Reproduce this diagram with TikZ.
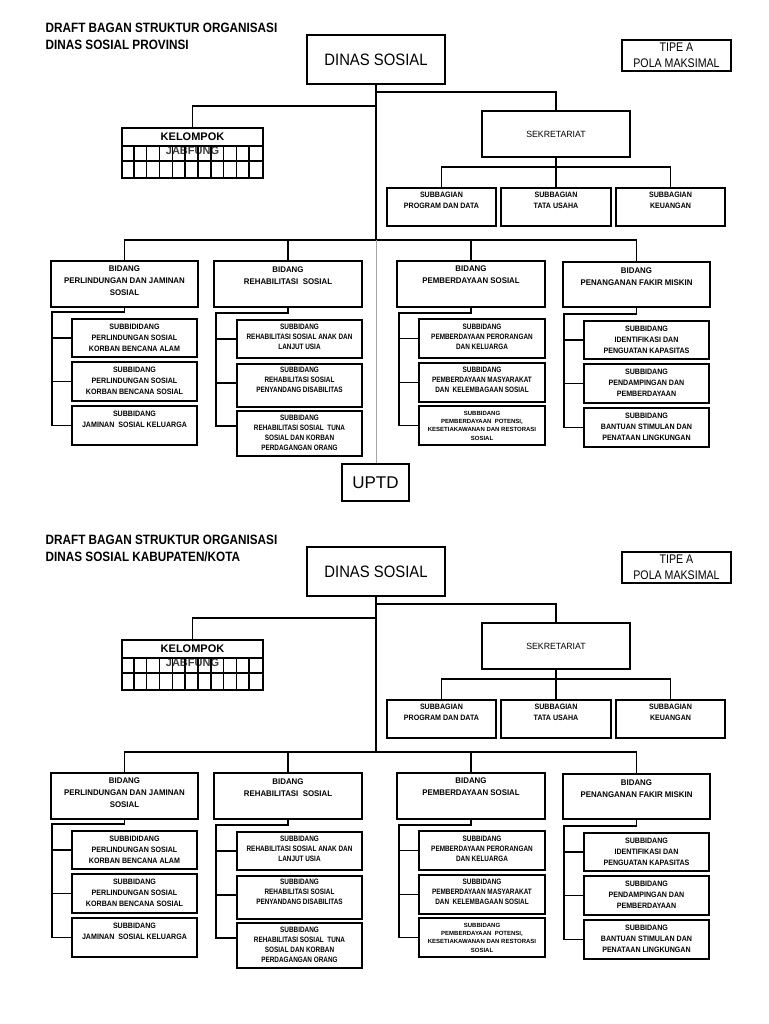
\documentclass[tikz,border=0pt]{standalone}
\usepackage{fontspec}
\setmainfont{Liberation Sans}
\newfontfamily\ftitle[FakeStretch=0.87]{Liberation Sans}
\newfontfamily\fbig[FakeStretch=0.9]{Liberation Sans}
\newfontfamily\ftipe[FakeStretch=0.85]{Liberation Sans}
\newfontfamily\fsek[FakeStretch=0.97]{Liberation Sans}
\newfontfamily\fsubw[FakeStretch=0.91]{Liberation Sans}
\newfontfamily\fsubn[FakeStretch=0.82]{Liberation Sans}
\newfontfamily\fbidn[FakeStretch=0.96]{Liberation Sans}
\newfontfamily\fbid{Liberation Sans}

\tikzset{
 box/.style={draw, line width=1.9pt, rectangle, inner sep=0pt, align=center},
 conn/.style={line width=1.9pt},
 gridln/.style={line width=1.5pt},
 txt/.style={anchor=north, inner sep=0pt, align=center},
 subw/.style={txt, font=\fsubw\bfseries\fontsize{7.8}{11}\selectfont},
 subn/.style={txt, font=\fsubn\bfseries\fontsize{7.8}{10}\selectfont},
 subs/.style={txt, font=\fbid\bfseries\fontsize{6}{8.3}\selectfont},
 bid/.style={txt, font=\fbidn\bfseries\fontsize{8.2}{12}\selectfont},
 bigtxt/.style={font=\fbig\fontsize{16.5}{18}\selectfont},
}

\newcommand\mkbox[7][]{\node[box,#1,minimum width={#5-#3},minimum height={#6-#4}] (#2) at ({(#3+#5)/2},{(#4+#6)/2}) {#7};}
\newcommand\intext[5]{\node[#1] (#2) at ([yshift=-#4pt]#3.north) {#5};}

\newcommand\orgchart[2]{%
 \node[anchor=north west, inner sep=0pt, align=left, font=\ftitle\bfseries\fontsize{13.5}{17.6}\selectfont] (#1title) at (45.5,22.7) {DRAFT BAGAN STRUKTUR ORGANISASI\\#2};
 \mkbox[bigtxt]{#1dinas}{307}{35}{445}{84}{DINAS SOSIAL}
 \mkbox[font=\ftipe\fontsize{12.5}{16}\selectfont]{#1tipe}{622}{40}{731}{71}{TIPE A\\POLA MAKSIMAL}
 % kelompok jabfung
 \mkbox{#1kel}{122}{128}{263}{178}{}
 \node[font=\fbid\bfseries\fontsize{11}{12}\selectfont, inner sep=0pt] (#1kelt) at ([yshift=-9.5pt]#1kel.north) {KELOMPOK};
 \node[font=\fbid\bfseries\fontsize{11}{12}\selectfont, inner sep=0pt, text=black!75] (#1jabt) at ([yshift=-23.7pt]#1kel.north) {JABFUNG};
 \draw[gridln] ([yshift=-19pt]#1kel.north west) -- ([yshift=-19pt]#1kel.north east);
 \draw[gridln] ([yshift=-34pt]#1kel.north west) -- ([yshift=-34pt]#1kel.north east);
 \foreach \k in {1,...,10} {\draw[gridln] ([xshift={\k*12.818pt},yshift=-19pt]#1kel.north west) -- ([xshift={\k*12.818pt}]#1kel.south west);}
 % sekretariat
 \mkbox[font=\fsek\fontsize{9}{11}\selectfont]{#1sek}{482}{111}{630}{157}{SEKRETARIAT}
 \mkbox{#1sb1}{387}{188}{496}{226}{}
 \mkbox{#1sb2}{501}{188}{611}{226}{}
 \mkbox{#1sb3}{616}{188}{725}{226}{}
 \intext{subw}{#1sb1t}{#1sb1}{5.2}{SUBBAGIAN\\PROGRAM DAN DATA}
 \intext{subw}{#1sb2t}{#1sb2}{5.2}{SUBBAGIAN\\TATA USAHA}
 \intext{subw}{#1sb3t}{#1sb3}{5.2}{SUBBAGIAN\\KEUANGAN}
 % bidang
 \mkbox{#1b1}{51}{261}{198}{307}{}
 \mkbox{#1b2}{214}{261}{362}{307}{}
 \mkbox{#1b3}{397}{261}{545}{307}{}
 \mkbox{#1b4}{563}{262}{710}{307}{}
 \intext{bid}{#1b1t}{#1b1}{6}{BIDANG\\PERLINDUNGAN DAN JAMINAN\\SOSIAL}
 \intext{bid}{#1b2t}{#1b2}{7}{BIDANG\\REHABILITASI\ \ SOSIAL}
 \intext{bid}{#1b3t}{#1b3}{6}{BIDANG\\PEMBERDAYAAN SOSIAL}
 \intext{bid}{#1b4t}{#1b4}{6.7}{BIDANG\\PENANGANAN FAKIR MISKIN}
 % column 1
 \mkbox{#1s1a}{72}{319}{197}{357}{}
 \mkbox{#1s1b}{72}{362}{197}{401}{}
 \mkbox{#1s1c}{72}{406}{197}{445}{}
 \intext{subw}{#1s1at}{#1s1a}{5.6}{SUBBIDIDANG\\PERLINDUNGAN SOSIAL\\KORBAN BENCANA ALAM}
 \intext{subw}{#1s1bt}{#1s1b}{5.6}{SUBBIDANG\\PERLINDUNGAN SOSIAL\\KORBAN BENCANA SOSIAL}
 \intext{subw}{#1s1ct}{#1s1c}{5.6}{SUBBIDANG\\JAMINAN\ \ SOSIAL KELUARGA}
 % column 2
 \mkbox{#1s2a}{237}{320}{362}{358}{}
 \mkbox{#1s2b}{237}{364}{362}{407}{}
 \mkbox{#1s2c}{237}{411}{362}{456}{}
 \intext{subn}{#1s2at}{#1s2a}{4.9}{SUBBIDANG\\REHABILITASI SOSIAL ANAK DAN\\LANJUT USIA}
 \intext{subn}{#1s2bt}{#1s2b}{3.9}{SUBBIDANG\\REHABILITASI SOSIAL\\PENYANDANG DISABILITAS}
 \intext{subn}{#1s2ct}{#1s2c}{4.5}{SUBBIDANG\\REHABILITASI SOSIAL\ \ TUNA\\SOSIAL DAN KORBAN\\PERDAGANGAN ORANG}
 % column 3
 \mkbox{#1s3a}{419}{319}{545}{358}{}
 \mkbox{#1s3b}{419}{363}{545}{402}{}
 \mkbox{#1s3c}{419}{406}{545}{445}{}
 \intext{subn}{#1s3at}{#1s3a}{5.9}{SUBBIDANG\\PEMBERDAYAAN PERORANGAN\\DAN KELUARGA}
 \intext{subn}{#1s3bt}{#1s3b}{4.9}{SUBBIDANG\\PEMBERDAYAAN MASYARAKAT\\DAN\ \ KELEMBAGAAN SOSIAL}
 \intext{subs}{#1s3ct}{#1s3c}{5.9}{SUBBIDANG\\PEMBERDAYAAN\ \ POTENSI,\\KESETIAKAWANAN DAN RESTORASI\\SOSIAL}
 % column 4
 \mkbox{#1s4a}{584}{321}{709}{359}{}
 \mkbox{#1s4b}{584}{364}{709}{403}{}
 \mkbox{#1s4c}{584}{408}{709}{447}{}
 \intext{subw}{#1s4at}{#1s4a}{5.5}{SUBBIDANG\\IDENTIFIKASI DAN\\PENGUATAN KAPASITAS}
 \intext{subw}{#1s4bt}{#1s4b}{6.2}{SUBBIDANG\\PENDAMPINGAN DAN\\PEMBERDAYAAN}
 \intext{subw}{#1s4ct}{#1s4c}{5.5}{SUBBIDANG\\BANTUAN STIMULAN DAN\\PENATAAN LINGKUNGAN}
 % connectors
 \coordinate (#1j1) at (376,92);
 \coordinate (#1j2) at (376,106);
 \coordinate (#1j3) at (376,240);
 \coordinate (#1j4) at (556,167);
 \draw[conn] (#1dinas.south) -- (#1j3);
 \draw[conn] (#1j1) -| (#1sek.north);
 \draw[conn] (#1j2) -| (#1kel.north);
 \draw[conn] (#1b1.north) |- (#1j3) -| (#1b4.north);
 \draw[conn] (#1b2.north) -- (#1b2.north |- #1j3);
 \draw[conn] (#1b3.north) -- (#1b3.north |- #1j3);
 \draw[conn] (#1sek.south) -- (#1j4);
 \draw[conn] (#1sb1.north) |- (#1j4) -| (#1sb3.north);
 \draw[conn] (#1j4) -- (#1sb2.north);
 % column rails
 \coordinate (#1r1) at (52,312);
 \draw[conn] (#1b1.south) |- (#1r1) |- (#1s1c.west);
 \draw[conn] (#1r1 |- #1s1a.west) -- (#1s1a.west);
 \draw[conn] (#1r1 |- #1s1b.west) -- (#1s1b.west);
 \coordinate (#1r2) at (216,313);
 \coordinate (#1k2b) at (216,383);
 \coordinate (#1k2c) at (216,426);
 \draw[conn] (#1b2.south) |- (#1r2) -- (#1k2c) -- (#1k2c -| #1s2c.west);
 \draw[conn] (#1r2 |- #1s2a.west) -- (#1s2a.west);
 \draw[conn] (#1k2b) -- (#1k2b -| #1s2b.west);
 \coordinate (#1r3) at (399,313);
 \draw[conn] (#1b3.south) |- (#1r3) |- (#1s3c.west);
 \draw[conn] (#1r3 |- #1s3a.west) -- (#1s3a.west);
 \draw[conn] (#1r3 |- #1s3b.west) -- (#1s3b.west);
 \coordinate (#1r4) at (564,314);
 \draw[conn] (#1b4.south) |- (#1r4) |- (#1s4c.west);
 \draw[conn] (#1r4 |- #1s4a.west) -- (#1s4a.west);
 \draw[conn] (#1r4 |- #1s4b.west) -- (#1s4b.west);
}

\begin{document}
\begin{tikzpicture}[x=1pt,y=-1pt]
 \fill[white] (0,0) rectangle (768,1024);
 \useasboundingbox (0,0) rectangle (768,1024);
 \orgchart{A}{DINAS SOSIAL PROVINSI}
 \mkbox[font=\fbid\fontsize{17}{18}\selectfont]{uptd}{342}{464}{409}{501}{UPTD}
 \draw[line width=1pt, black!35] (Aj3) -- (Aj3 |- uptd.north);
 \begin{scope}[yshift=-512pt]
  \orgchart{B}{DINAS SOSIAL KABUPATEN/KOTA}
 \end{scope}
\end{tikzpicture}
\end{document}
